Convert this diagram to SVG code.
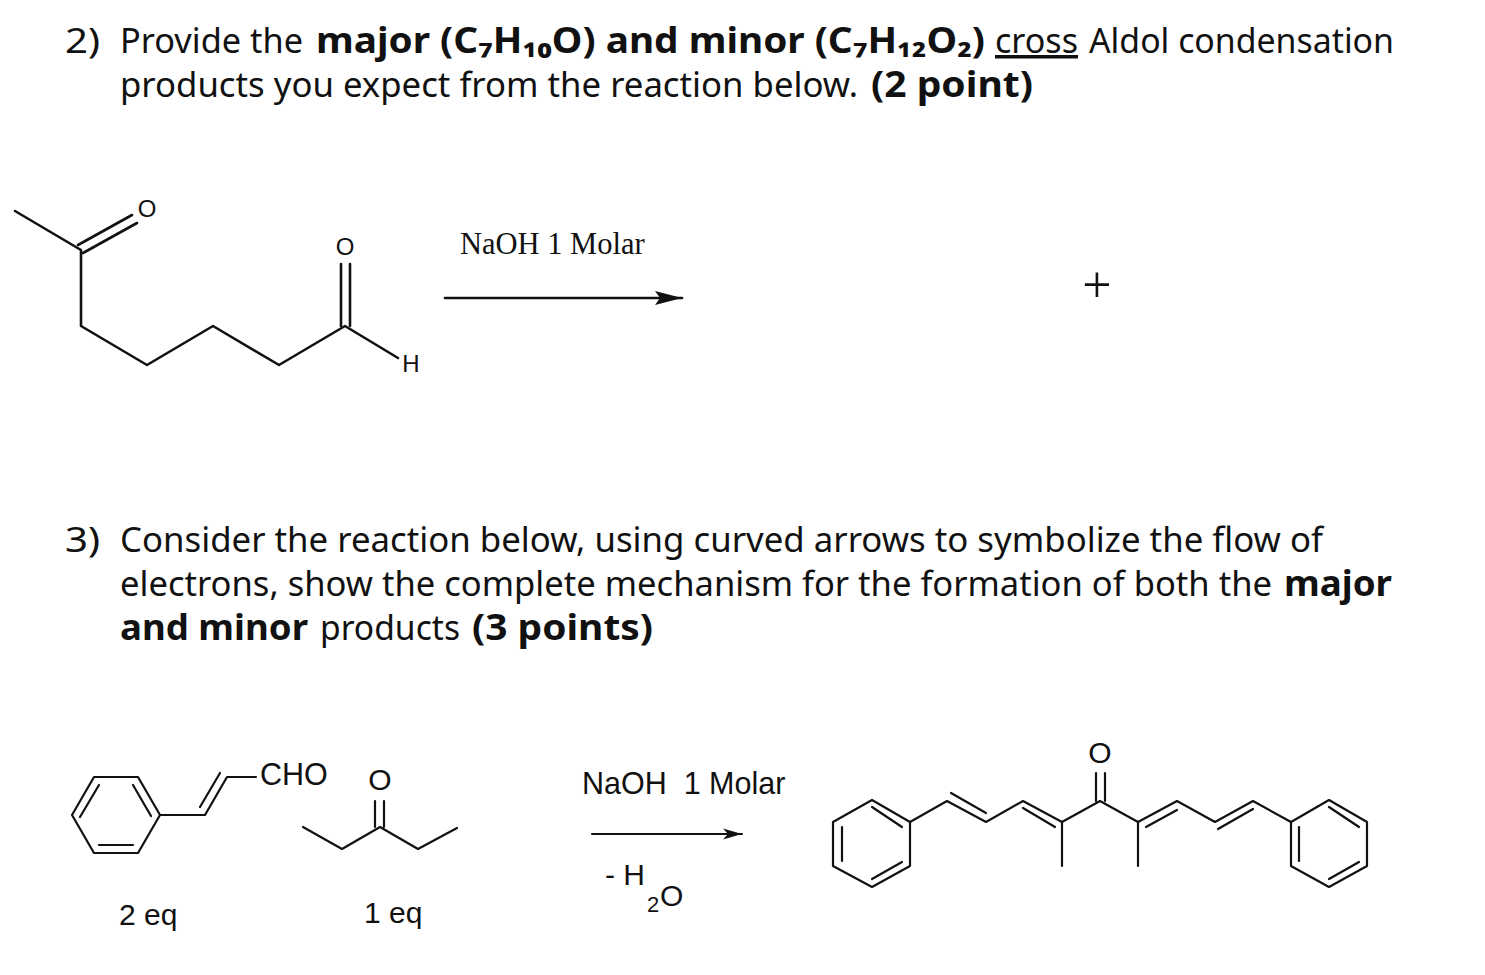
<svg xmlns="http://www.w3.org/2000/svg" width="1485" height="975" viewBox="0 0 1485 975">
<style>
.q{font-family:"Noto Sans","DejaVu Sans",sans-serif;font-size:35px;fill:#111}
.b{font-weight:bold}
.c{font-family:"Liberation Sans",Arial,sans-serif;font-size:30px;fill:#111;white-space:pre}
.s{font-family:"Liberation Serif","Times New Roman",serif;fill:#111}
.m{fill:none;stroke:#111;stroke-width:2.6;stroke-linejoin:round;stroke-linecap:round}
.t{stroke-width:2.2}
</style>
<defs>
<marker id="ah" markerUnits="userSpaceOnUse" markerWidth="28" markerHeight="14" refX="27" refY="7" orient="auto"><path d="M0 0L27 7L0 14L5 7Z" fill="#111"/></marker>
<marker id="ah2" markerUnits="userSpaceOnUse" markerWidth="20" markerHeight="12" refX="19" refY="6" orient="auto"><path d="M0 .5L19 6L0 11.5L5 6Z" fill="#111"/></marker>
</defs>
<rect width="1485" height="975" fill="#fff"/>
<g id="question-2">
<text class="q" x="65" y="53" textLength="35" lengthAdjust="spacingAndGlyphs">2)</text>
<text class="q" x="120" y="53" textLength="183" lengthAdjust="spacingAndGlyphs">Provide the</text>
<text class="q b" x="316" y="53" textLength="669" lengthAdjust="spacingAndGlyphs">major (C₇H₁₀O) and minor (C₇H₁₂O₂)</text>
<text class="q" x="995" y="53" textLength="83" lengthAdjust="spacingAndGlyphs" text-decoration="underline">cross</text>
<text class="q" x="1089" y="53" textLength="305" lengthAdjust="spacingAndGlyphs">Aldol condensation</text>
<text class="q" x="120" y="97" textLength="738" lengthAdjust="spacingAndGlyphs">products you expect from the reaction below.</text>
<text class="q b" x="871" y="97" textLength="162" lengthAdjust="spacingAndGlyphs">(2 point)</text>
</g>
<g id="question-3">
<text class="q" x="65" y="552" textLength="35" lengthAdjust="spacingAndGlyphs">3)</text>
<text class="q" x="120" y="552" textLength="1203" lengthAdjust="spacingAndGlyphs">Consider the reaction below, using curved arrows to symbolize the flow of</text>
<text class="q" x="120" y="596" textLength="1152" lengthAdjust="spacingAndGlyphs">electrons, show the complete mechanism for the formation of both the</text>
<text class="q b" x="1284" y="596" textLength="108" lengthAdjust="spacingAndGlyphs">major</text>
<text class="q b" x="120" y="640" textLength="188" lengthAdjust="spacingAndGlyphs">and minor</text>
<text class="q" x="320" y="640" textLength="140" lengthAdjust="spacingAndGlyphs">products</text>
<text class="q b" x="472" y="640" textLength="181" lengthAdjust="spacingAndGlyphs">(3 points)</text>
</g>
<g id="ketoaldehyde">
<path class="m" d="M15 211L81 250V326L147 365L213 326L279 365L345 326L398 358"/>
<path class="m" d="M78 245L132 215M83 253L137 223M341 326V264M350 326V264"/>
<text class="c" x="147" y="217" text-anchor="middle" style="font-size:24px">O</text>
<text class="c" x="345" y="255" text-anchor="middle" style="font-size:24px">O</text>
<text class="c" x="411" y="372" text-anchor="middle" style="font-size:24px">H</text>
</g>
<g id="reagent-1"><text class="s" x="460" y="254" font-size="30.5">NaOH 1 Molar</text></g>
<g id="plus"><text class="s" x="1097" y="302" font-size="52" text-anchor="middle">+</text></g>
<g id="cinnamaldehyde">
<path class="m t" d="M72 815L94 777H138L160 815L138 853H94ZM80 817L99 785M133 785L151 816M99 845H133"/>
<path class="m t" d="M160 815H205L227 777H256M200 807L220 773"/>
<text class="c" x="260" y="785" style="font-size:30.5px">CHO</text>
<text class="c" x="119" y="925">2 eq</text>
</g>
<g id="pentanone">
<path class="m t" d="M303 827L342 849L380 827L418 849L457 828M375 827V801M384 827V801"/>
<text class="c" x="380" y="790" text-anchor="middle">O</text>
<text class="c" x="364" y="923">1 eq</text>
</g>
<g id="reagent-2">
<text class="c" x="582" y="794" style="font-size:30.5px">NaOH  1 Molar</text>
<text class="c" x="605" y="885">- H</text>
<text class="c" x="647" y="912" style="font-size:22px">2</text>
<text class="c" x="660" y="906">O</text>
</g>
<g id="product">
<path class="m t" d="M872 800L910 822V866L872 887L833 866V822ZM872 807L902 827M842 827V861M872 879L902 862"/>
<path class="m t" d="M910 822L947 801L986 822L1023 801L1062 822L1100 801L1138 822L1177 801L1215 822L1253 801L1291 822"/>
<path class="m t" d="M951 793L986 813M1023 808L1055 827M1146 827L1177 810M1218 829L1253 809M1062 822V866M1138 822V866M1096 801V773M1105 801V773"/>
<path class="m t" d="M1329 800L1367 822V866L1329 887L1291 866V822ZM1329 807L1359 827M1299 827V861M1329 879L1359 862"/>
<text class="c" x="1100" y="763" text-anchor="middle">O</text>
</g>
<g id="connectors">
<line class="m" x1="445" y1="298" x2="682" y2="298" marker-end="url(#ah)" stroke-linecap="butt"/>
<line class="m t" x1="592" y1="834" x2="742" y2="834" marker-end="url(#ah2)"/>
</g>
</svg>
